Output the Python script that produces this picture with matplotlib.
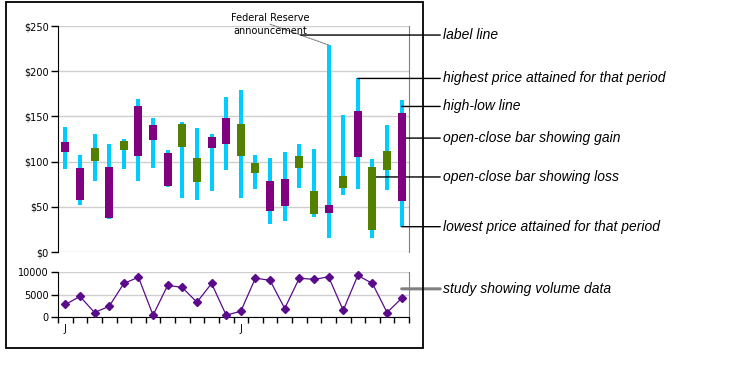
import matplotlib
matplotlib.use("Agg")
import matplotlib.pyplot as plt
import matplotlib.transforms as mtransforms
from matplotlib.patches import Rectangle
import numpy as np

# ---- data ----
opens  = [111, 58, 115, 38, 123, 106, 124, 73, 142, 104, 115, 120,
          142, 98, 45, 51, 106, 68, 43, 84, 105, 94, 112, 56]
closes = [122, 93, 101, 94, 113, 161, 140, 109, 116, 77, 127, 148,
          106, 87, 79, 81, 93, 42, 52, 71, 156, 24, 91, 154]
highs  = [138, 107, 131, 120, 125, 169, 148, 113, 144, 137, 131, 172,
          179, 107, 104, 111, 120, 114, 229, 152, 192, 103, 141, 168]
lows   = [92, 52, 79, 36, 92, 78, 93, 72, 60, 57, 68, 91,
          60, 70, 31, 34, 71, 39, 15, 63, 70, 15, 69, 28]
volume = [2800, 4600, 1000, 2400, 7500, 8900, 400, 7100, 6600, 3300, 7500, 400,
          1300, 8700, 8200, 1900, 8700, 8400, 9000, 1500, 9300, 7500, 1000, 4200]
price_ticks = [0, 50, 100, 150, 200, 250]
price_labels = ["$0", "$50", "$100", "$150", "$200", "$250"]
vol_ticks = [0, 5000, 10000]
vol_labels = ["0", "5000", "10000"]
month_pos = [0, 12]
month_labels = ["J", "J"]

CYAN = "#00CCFF"
GAIN = "#800080"
LOSS = "#548000"
VOLC = "#5B0A8C"
GRID = "#CFCFCF"

W, H = 733, 371
fig = plt.figure(figsize=(W / 100, H / 100), dpi=100)

def fax(l, t, r, b):
    return fig.add_axes([l / W, 1 - b / H, (r - l) / W, (b - t) / H])

ax = fax(58, 26, 409, 252)
axv = fax(58, 272.3, 409, 317)

n = len(opens)
x = np.arange(n)
o = np.array(opens); c = np.array(closes)
hi = np.array(highs); lo = np.array(lows)

# high-low lines
ax.bar(x, hi - lo, bottom=lo, width=0.27, color=CYAN, zorder=3)
# open-close bars
cols = [GAIN if cc > oo else LOSS for oo, cc in zip(opens, closes)]
ax.bar(x, np.abs(c - o), bottom=np.minimum(o, c), width=0.55, color=cols, zorder=4)

ax.set_xlim(-0.5, n - 0.5)
ax.set_ylim(0, 250)
ax.set_yticks(price_ticks, price_labels)
ax.set_xticks([])
ax.grid(axis="y", color=GRID, lw=1, zorder=0)
ax.set_axisbelow(True)
for s in ("top", "bottom"):
    ax.spines[s].set_visible(False)
ax.spines["right"].set_color("#808080")
ax.spines["left"].set_color("black")
ax.tick_params(axis="y", length=5, width=1, labelsize=7, pad=1.5)

# volume study
axv.plot(x, volume, color=VOLC, lw=0.9, marker="D", ms=4.5, zorder=3, clip_on=False)
axv.set_xlim(-0.5, n - 0.5)
axv.set_ylim(0, 10000)
axv.set_yticks(vol_ticks, vol_labels)
axv.set_xticks(np.arange(n + 1) - 0.5, [""] * (n + 1))
axv.set_xticks(month_pos, month_labels, minor=True)
axv.tick_params(axis="x", which="major", length=4, width=1)
axv.tick_params(axis="x", which="minor", length=0, labelsize=7, pad=5)
axv.tick_params(axis="y", length=5, width=1, labelsize=7, pad=1.5)
axv.grid(axis="y", color=GRID, lw=1, zorder=0)
axv.set_axisbelow(True)
axv.spines["top"].set_visible(False)
axv.spines["right"].set_color("#808080")

# outer frame
fig.add_artist(Rectangle((5.5 / W, 1 - 348 / H), (423 - 5.5) / W, (348 - 1.5) / H,
                         transform=fig.transFigure, fill=False, ec="black", lw=1.3))

# Federal Reserve annotation
ax.annotate("Federal Reserve\nannouncement", xy=(18, highs[18]), xycoords="data",
            xytext=(14.0, 252), textcoords="data", ha="center", va="center",
            fontsize=7, linespacing=1.35, annotation_clip=False,
            arrowprops=dict(arrowstyle="-", color="#808080", lw=0.8,
                            shrinkA=0, shrinkB=0, relpos=(0.5, 0.5),
                            patchA=None, linestyle=(0, (2, 1))))

# callouts
lab_x = 443 / W
bt = mtransforms.blended_transform_factory(fig.transFigure, ax.transData)
btv = mtransforms.blended_transform_factory(fig.transFigure, axv.transData)
tf = dict(fontsize=10, style="italic", family="Liberation Sans", ha="left", va="center")

def callout(a, trans, text, xy, color="black", lw=1.0):
    a.annotate(text, xy=xy, xycoords="data", xytext=(lab_x, xy[1]), textcoords=trans,
               annotation_clip=False, **tf,
               arrowprops=dict(arrowstyle="-", color=color, lw=lw, shrinkA=0, shrinkB=0))

callout(ax, bt, "label line", (16.1, 240))
callout(ax, bt, "highest price attained for that period", (20, highs[20]))
callout(ax, bt, "high-low line", (23, 161))
callout(ax, bt, "open-close bar showing gain", (23, 126))
callout(ax, bt, "open-close bar showing loss", (21, 83))
callout(ax, bt, "lowest price attained for that period", (23, lows[23]))
callout(axv, btv, "study showing volume data", (23, 6300), color="#808080", lw=2.2)

fig.savefig("out.png", dpi=100)
